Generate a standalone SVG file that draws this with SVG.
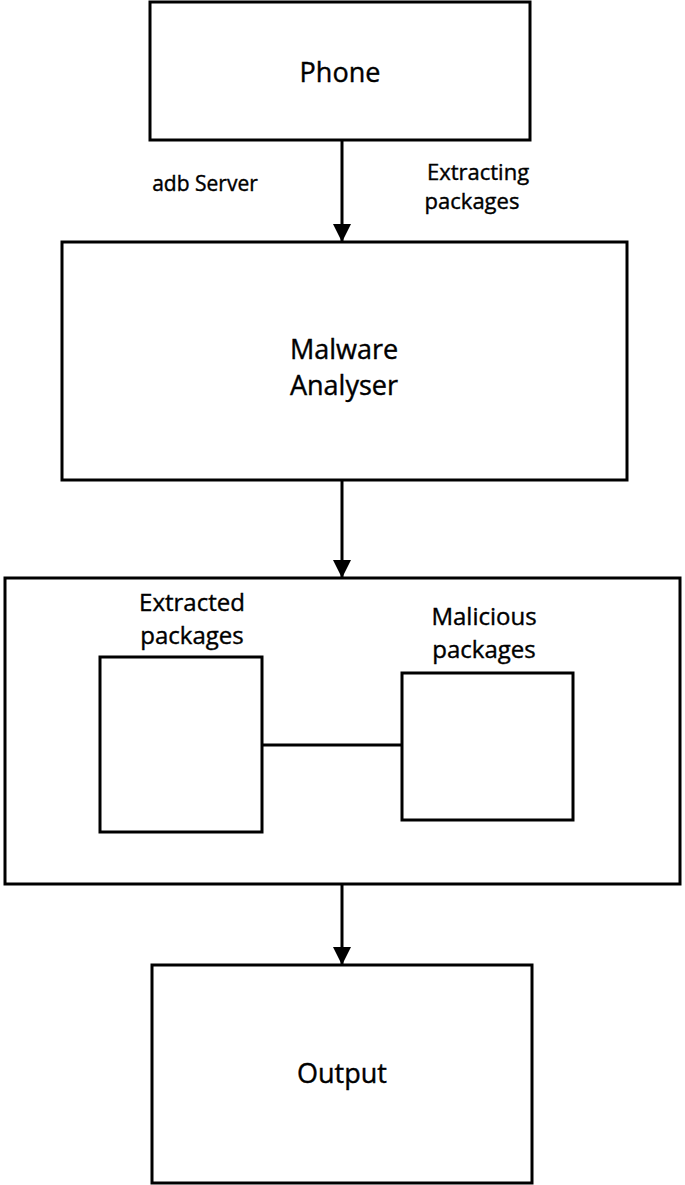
<svg xmlns="http://www.w3.org/2000/svg" width="685" height="1185" viewBox="0 0 685 1185">
<style>
rect{fill:#fff;stroke:#000;stroke-width:3}
text{font-family:"Open Sans","Liberation Sans",sans-serif;fill:#000;text-anchor:middle;stroke:#000;stroke-width:0.4}
.c line{stroke:#000;stroke-width:3}
</style>
<defs>
<marker id="ah" viewBox="0 0 10 10" refX="10" refY="5" markerWidth="20" markerHeight="18" markerUnits="userSpaceOnUse" orient="auto"><path d="M0,0L10,5L0,10z" fill="#000"/></marker></defs>
<rect width="685" height="1185" style="fill:#fff;stroke:none"/>
<g id="phone"><rect x="150" y="2" width="380" height="138"/><text x="340" y="82" font-size="27">Phone</text></g>
<g id="malware"><rect x="62" y="242" width="565" height="238"/><text x="344" y="359" font-size="27">Malware</text><text x="344" y="395" font-size="27">Analyser</text></g>
<g id="container"><rect x="5" y="578" width="675" height="306"/></g>
<g id="extracted"><rect x="100" y="657" width="162" height="175"/><text x="192" y="611" font-size="24">Extracted</text><text x="192" y="644" font-size="24">packages</text></g>
<g id="malicious"><rect x="402" y="673" width="171" height="147"/><text x="484" y="625" font-size="24">Malicious</text><text x="484" y="658" font-size="24">packages</text></g>
<g id="output"><rect x="152" y="965" width="380" height="218"/><text x="342" y="1083" font-size="27">Output</text></g>
<g id="labels"><text x="205" y="191" font-size="21">adb Server</text><text x="478" y="180" font-size="22">Extracting</text><text x="472" y="209" font-size="22">packages</text></g>
<g class="c" id="connectors">
<line x1="342" y1="140" x2="342" y2="242" marker-end="url(#ah)"/>
<line x1="342" y1="480" x2="342" y2="578" marker-end="url(#ah)"/>
<line x1="342" y1="884" x2="342" y2="965" marker-end="url(#ah)"/>
<line x1="262" y1="745" x2="402" y2="745"/>
</g>
</svg>
